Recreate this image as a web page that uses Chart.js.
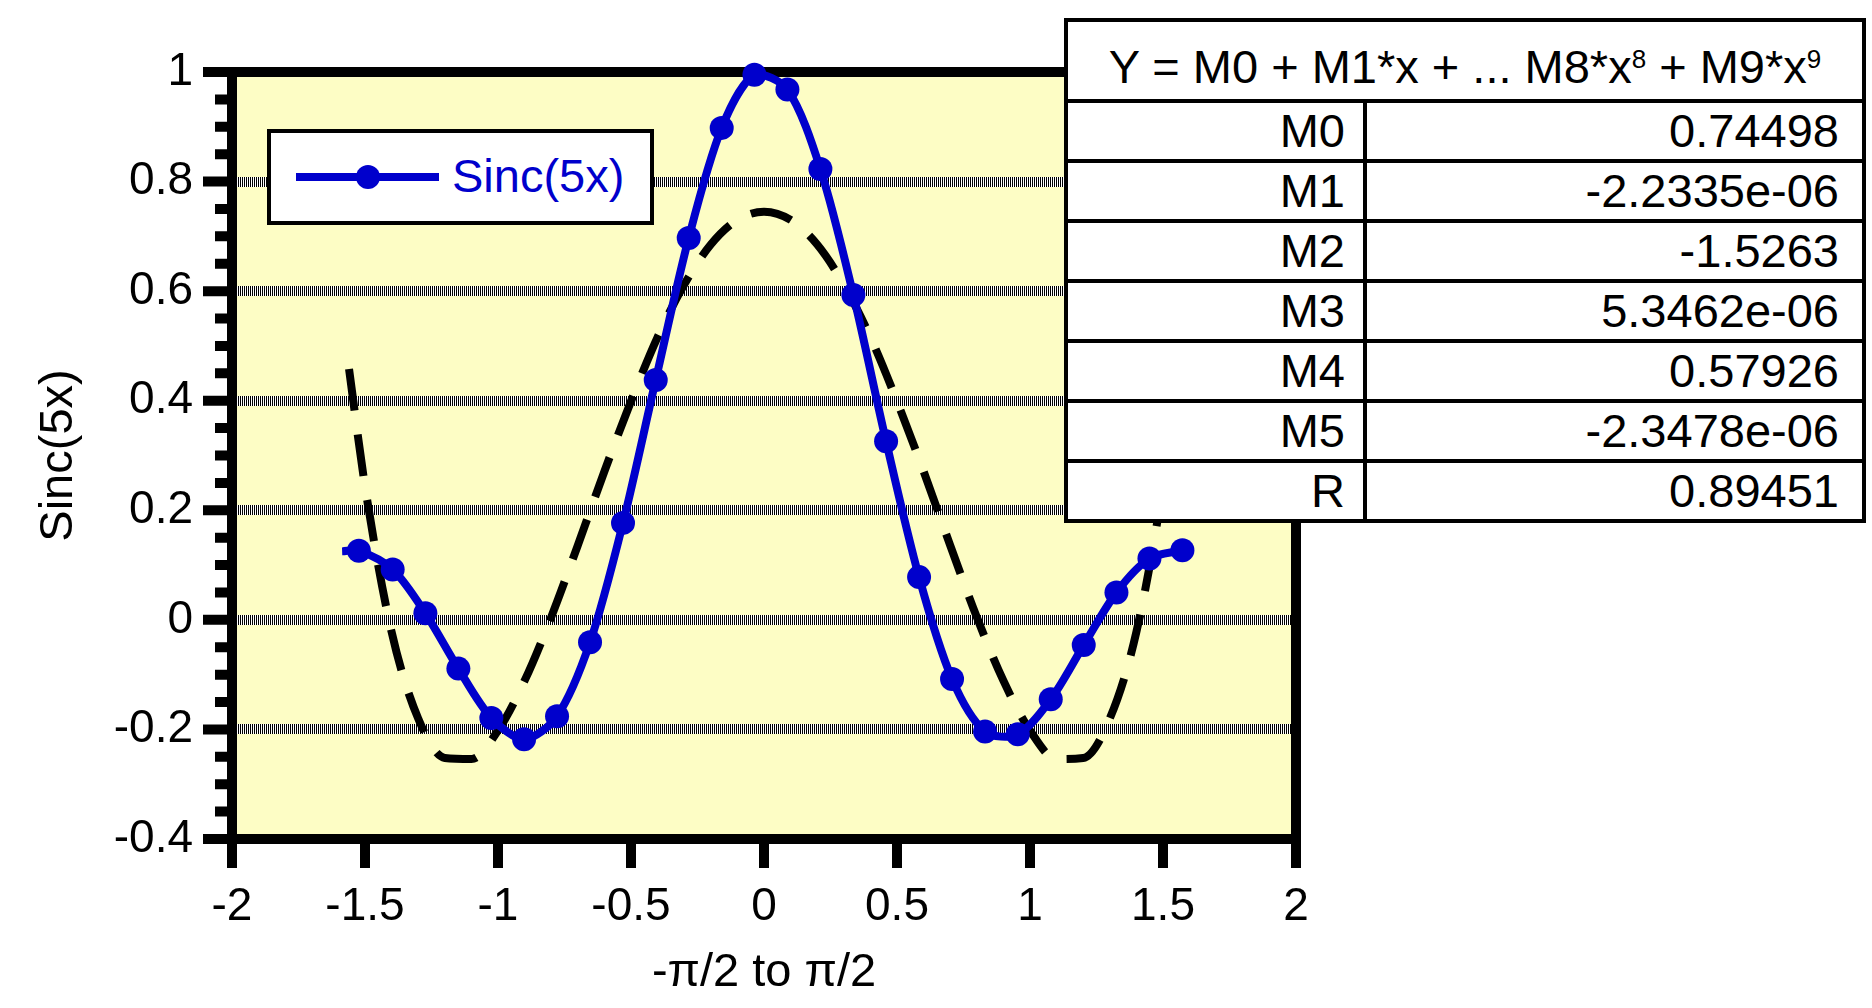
<!DOCTYPE html>
<html>
<head>
<meta charset="utf-8">
<title>Sinc(5x) with polynomial fit</title>
<script src="https://cdn.jsdelivr.net/npm/chart.js@4.4.1/dist/chart.umd.min.js"></script>
<style>
  html, body { margin: 0; padding: 0; background: #fff; overflow: hidden; }
  #wrap { position: relative; width: 1872px; height: 1008px; font-family: "Liberation Sans", Arial, sans-serif; }
  #sincChart { position: absolute; left: 0; top: 0; }
  #legendBox { position: absolute; left: 267px; top: 129px; width: 387px; height: 96px; box-sizing: border-box; border: 4px solid #000; background: #fff; }
  #legendBox .line { position: absolute; left: 25px; top: 40px; width: 143px; height: 8px; background: #0000cc; }
  #legendBox .dot { position: absolute; left: 85px; top: 32px; width: 24px; height: 24px; border-radius: 50%; background: #0000cc; }
  #legendBox .label { position: absolute; left: 181px; top: 19px; font-size: 47px; line-height: 47px; color: #0000cc; white-space: nowrap; }
  #fitTable { position: absolute; left: 1064px; top: 18px; width: 802px; height: 505px; box-sizing: border-box; border: 4px solid #000; background: #fff; font-size: 47px; color: #000; }
  #fitTable .head { position: absolute; left: 0; right: 0; top: 21px; line-height: 47px; text-align: center; white-space: nowrap; }
  #fitTable .head .sup { font-size: 26px; line-height: 0; vertical-align: baseline; position: relative; top: -15px; }
  #fitTable .row { position: absolute; left: 0; right: 0; height: 60px; box-sizing: border-box; border-top: 4px solid #000; }
  #fitTable .name { position: absolute; left: 0; top: 0; width: 295px; height: 56px; line-height: 56px; text-align: right; padding-right: 18px; box-sizing: border-box; }
  #fitTable .val { position: absolute; left: 295px; right: 0; top: 0; height: 56px; line-height: 56px; text-align: right; padding-right: 23px; box-sizing: border-box; border-left: 4px solid #000; }
</style>
</head>
<body>
<div id="wrap">
  <canvas id="sincChart" width="1872" height="1008"></canvas>
  <div id="legendBox"><div class="line"></div><div class="dot"></div><div class="label"></div></div>
  <div id="fitTable"></div>
</div>
<script>
// axis ticks
var xTickValues = [-2, -1.5, -1, -0.5, 0, 0.5, 1, 1.5, 2];
var yTickValues = [-0.4, -0.2, 0, 0.2, 0.4, 0.6, 0.8, 1];

// Sinc(5x) samples (first entry is the short lead-in of the line, no marker)
var seriesName = 'Sinc(5x)';
var sincX = [-1.586, -1.523, -1.396, -1.273, -1.149, -1.025, -0.902, -0.778, -0.654, -0.530,
             -0.407, -0.283, -0.159, -0.036, 0.088, 0.212, 0.336, 0.459, 0.583, 0.707,
             0.831, 0.954, 1.078, 1.202, 1.325, 1.449, 1.573];
var sincY = [0.125, 0.126, 0.092, 0.012, -0.089, -0.179, -0.218, -0.176, -0.041, 0.177,
             0.438, 0.697, 0.898, 0.995, 0.968, 0.823, 0.593, 0.326, 0.078, -0.108,
             -0.204, -0.209, -0.145, -0.046, 0.050, 0.112, 0.127];

// dashed polynomial fit curve
var fitX = [-1.56, -1.5, -1.4, -1.3, -1.2, -1.1, -1.0, -0.9, -0.8, -0.7, -0.6, -0.5, -0.4, -0.3, -0.2, -0.1, 0,
            0.1, 0.2, 0.3, 0.4, 0.5, 0.6, 0.7, 0.8, 0.9, 1.0, 1.1, 1.2, 1.3, 1.4, 1.5, 1.56];
var fitY = [0.458, 0.244, -0.022, -0.180, -0.252, -0.254, -0.202, -0.111, 0.005, 0.136, 0.271, 0.399, 0.516, 0.612, 0.685, 0.730, 0.745,
            0.730, 0.685, 0.612, 0.516, 0.399, 0.271, 0.136, 0.005, -0.111, -0.202, -0.254, -0.252, -0.180, -0.022, 0.244, 0.458];

// fit results table
var tableTitle = ['Y = M0 + M1*x + ... M8*x', '8', ' + M9*x', '9'];
var coefNames = ['M0', 'M1', 'M2', 'M3', 'M4', 'M5', 'R'];
var coefValues = ['0.74498', '-2.2335e-06', '-1.5263', '5.3462e-06', '0.57926', '-2.3478e-06', '0.89451'];

var blue = '#0000cc';
var plotBg = '#fdfdc5';

// legend
document.querySelector('#legendBox .label').textContent = seriesName;

// table
var table = document.getElementById('fitTable');
var head = document.createElement('div');
head.className = 'head';
tableTitle.forEach(function(part, i) {
    var el = document.createElement('span');
    if (i % 2) el.className = 'sup';
    el.textContent = part;
    head.appendChild(el);
});
table.appendChild(head);
coefNames.forEach(function(name, i) {
    var row = document.createElement('div');
    row.className = 'row';
    row.style.top = (77 + i * 60) + 'px';
    var n = document.createElement('div');
    n.className = 'name';
    n.textContent = name;
    var v = document.createElement('div');
    v.className = 'val';
    v.textContent = coefValues[i];
    row.appendChild(n);
    row.appendChild(v);
    table.appendChild(row);
});

// striped grid line pattern (1px black / 1px white)
var pc = document.createElement('canvas');
pc.width = 2; pc.height = 1;
var pctx = pc.getContext('2d');
pctx.fillStyle = '#fff'; pctx.fillRect(0, 0, 2, 1);
pctx.fillStyle = '#000'; pctx.fillRect(0, 0, 1, 1);
var stripes = pctx.createPattern(pc, 'repeat');

// background, frame and tick marks
var framePlugin = {
    id: 'frame',
    beforeDraw: function(chart) {
        var a = chart.chartArea, ctx = chart.ctx;
        ctx.save();
        ctx.fillStyle = plotBg;
        ctx.fillRect(a.left, a.top, a.right - a.left, a.bottom - a.top);
        ctx.restore();
    },
    beforeDatasetsDraw: function(chart) {
        var a = chart.chartArea, ctx = chart.ctx;
        var xs = chart.scales.x, ys = chart.scales.y;
        ctx.save();
        ctx.strokeStyle = '#000';
        ctx.lineWidth = 10;
        ctx.lineCap = 'butt';
        ctx.strokeRect(a.left, a.top, a.right - a.left, a.bottom - a.top);

        ctx.beginPath();
        yTickValues.forEach(function(v, i) {
            var py = ys.getPixelForValue(v);
            ctx.moveTo(a.left - 29, py);
            ctx.lineTo(a.left, py);
        });
        xTickValues.forEach(function(v) {
            var px = xs.getPixelForValue(v);
            ctx.moveTo(px, a.bottom);
            ctx.lineTo(px, a.bottom + 29);
        });
        ctx.stroke();

        // minor ticks: three between each pair of labelled ticks
        ctx.beginPath();
        for (var i = 0; i < yTickValues.length - 1; i++) {
            var lo = yTickValues[i], hi = yTickValues[i + 1];
            for (var k = 1; k < 4; k++) {
                var py = ys.getPixelForValue(lo + (hi - lo) * k / 4);
                ctx.moveTo(a.left - 17, py);
                ctx.lineTo(a.left, py);
            }
        }
        ctx.stroke();
        ctx.restore();
    }
};

Chart.defaults.font.family = '"Liberation Sans", Arial, sans-serif';
Chart.defaults.color = '#000';

var ctx = document.getElementById('sincChart').getContext('2d');
new Chart(ctx, {
    type: 'line',
    data: {
        datasets: [{
            label: seriesName,
            data: sincX.map(function(x, i) { return { x: x, y: sincY[i] }; }),
            borderColor: blue,
            backgroundColor: blue,
            borderWidth: 8,
            pointRadius: sincX.map(function(x, i) { return i === 0 ? 0 : 12; }),
            pointBorderWidth: 0,
            pointBackgroundColor: blue,
            tension: 0.3,
            clip: false
        }, {
            label: 'Fit',
            data: fitX.map(function(x, i) { return { x: x, y: fitY[i] }; }),
            borderColor: '#000',
            borderWidth: 8,
            borderDash: [42, 24],
            pointRadius: 0,
            cubicInterpolationMode: 'monotone',
            fill: false
        }]
    },
    options: {
        responsive: false,
        devicePixelRatio: 1,
        animation: false,
        events: [],
        layout: { padding: { left: 0, top: 72, right: 576, bottom: 0 } },
        scales: {
            x: {
                type: 'linear',
                position: 'bottom',
                min: -2,
                max: 2,
                afterBuildTicks: function(s) { s.ticks = xTickValues.map(function(v) { return { value: v }; }); },
                afterFit: function(s) { s.height = 169; },
                ticks: {
                    font: { size: 46 },
                    color: '#000',
                    padding: 41,
                    maxRotation: 0,
                    autoSkip: false,
                    callback: function(v) { return String(v); }
                },
                grid: { display: false, drawTicks: false },
                border: { display: false },
                title: {
                    display: true,
                    text: '-π/2 to π/2',
                    color: '#000',
                    font: { size: 47 },
                    padding: { top: 0, bottom: 7 }
                }
            },
            y: {
                type: 'linear',
                min: -0.4,
                max: 1,
                afterBuildTicks: function(s) { s.ticks = yTickValues.map(function(v) { return { value: v }; }); },
                afterFit: function(s) { s.width = 232; },
                ticks: {
                    font: { size: 46 },
                    color: '#000',
                    padding: 39,
                    autoSkip: false,
                    callback: function(v) { return String(v); }
                },
                grid: {
                    drawTicks: false,
                    lineWidth: 10,
                    color: function(c) {
                        return (c.tick && c.tick.value > -0.4 && c.tick.value < 1) ? stripes : 'rgba(0,0,0,0)';
                    }
                },
                border: { display: false },
                title: {
                    display: true,
                    text: 'Sinc(5x)',
                    color: '#000',
                    font: { size: 47 },
                    padding: { top: 31, bottom: 0 }
                }
            }
        },
        plugins: {
            legend: { display: false },
            tooltip: { enabled: false }
        }
    },
    plugins: [framePlugin]
});
</script>
</body>
</html>
